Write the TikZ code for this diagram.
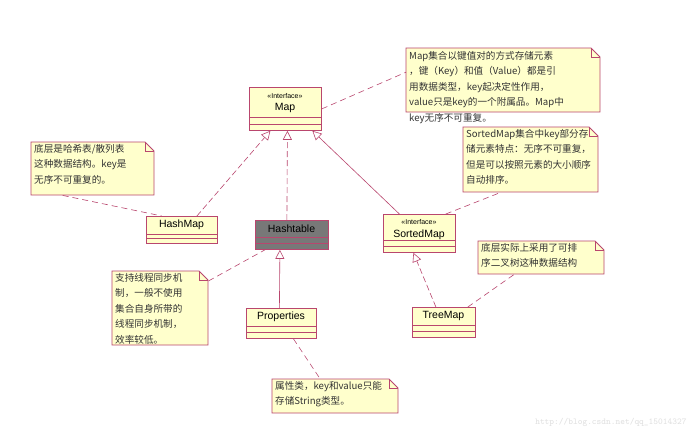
\documentclass[tikz,border=0pt]{standalone}
\usepackage{fontspec}
\setmainfont{Liberation Sans}
\newfontfamily\cjk{Noto Sans CJK SC}
\usetikzlibrary{arrows.meta,calc}
\definecolor{bd}{RGB}{185,70,110}
\definecolor{nf}{RGB}{255,255,204}
\definecolor{gr}{RGB}{120,120,120}
\tikzset{
 box/.style={draw=bd,fill=nf,anchor=north west,inner sep=0,line width=0.8pt},
 note/.style={anchor=north west,inner sep=0},
 ntext/.style={anchor=north west,inner sep=0,align=left,font=\cjk\fontsize{9.6}{15.5}\selectfont,text=black!80},
 gen/.style={draw=bd,line width=0.6pt,-{Triangle[open,length=9pt,width=9pt,fill=white]}},
 real/.style={gen,dash pattern=on 6pt off 3pt},
 link/.style={draw=bd,line width=0.6pt,dash pattern=on 6pt off 4pt},
 stereo/.style={font=\fontsize{7}{8}\selectfont},
 cname/.style={font=\fontsize{10.5}{12}\selectfont},
}
\newcommand{\notebox}[5]{% name, x1,y1,x2,y2
 \node[note,minimum width=#4-#2,minimum height=#5-#3] (#1) at (#2,#3) {};
 \draw[bd,fill=nf,line width=0.8pt] (#2,#3) -- (#4-9,#3) -- (#4,#3+9) -- (#4,#5) -- (#2,#5) -- cycle;
 \draw[bd,line width=0.6pt] (#4-9,#3) -- (#4-9,#3+9) -- (#4,#3+9);
}
\newcommand{\clsbox}[7]{% name,x1,y1,x2,y2,line1,line2
 \node[box,minimum width=#4-#2,minimum height=#5-#3] (#1) at (#2,#3) {};
 \draw[bd,line width=0.6pt] (#2,#6) -- (#4,#6) (#2,#7) -- (#4,#7);
}
\begin{document}
\begin{tikzpicture}[x=1pt,y=-1pt]
\useasboundingbox[fill=white] (0,0) rectangle (692,432);
% notes
\notebox{nmap}{406}{48}{600}{112}
\node[ntext] at (409,51) {Map集合以键值对的方式存储元素\\，键（Key）和值（Value）都是引\\用数据类型，key起决定性作用，\\value只是key的一个附属品。Map中\\key无序不可重复。};
\notebox{nhash}{31}{142}{154}{195}
\node[ntext] at (34,144) {底层是哈希表/散列表\\这种数据结构。key是\\无序不可重复的。};
\notebox{nsort}{463}{127}{598}{192}
\node[ntext] at (466,129) {SortedMap集合中key部分存\\储元素特点：无序不可重复，\\但是可以按照元素的大小顺序\\自动排序。};
\notebox{ntable}{112}{271}{208}{345}
\node[ntext] at (115,273) {支持线程同步机\\制，一般不使用\\集合自身所带的\\线程同步机制，\\效率较低。};
\notebox{nprop}{272}{379}{398}{413}
\node[ntext] at (275,381) {属性类，key和value只能\\存储String类型。};
\notebox{ntree}{478}{241}{604}{274}
\node[ntext] at (481,243) {底层实际上采用了可排\\序二叉树这种数据结构};
% classes
\clsbox{map}{249}{87}{321}{130}{117}{124}
\node[stereo] at (285,96) {<<Interface>>};
\node[cname] at (285,108) {Map};
\clsbox{hashmap}{146}{216}{217}{243}{234}{238}
\node[cname] at (181.5,225) {HashMap};
\node[box,fill=gr,minimum width=73,minimum height=29] (hashtable) at (255,220) {};
\draw[bd,line width=0.6pt] (255,237) -- (328,237) (255,243) -- (328,243);
\node[cname] at (291.5,229) {Hashtable};
\clsbox{sortedmap}{383}{214}{455}{252}{240}{246}
\node[stereo] at (419,222) {<<Interface>>};
\node[cname] at (419,235) {SortedMap};
\clsbox{props}{246}{308}{316}{338}{326}{332}
\node[cname] at (281,317) {Properties};
\clsbox{treemap}{412}{307}{475}{337}{325}{331}
\node[cname] at (443.5,316) {TreeMap};
% relations
\draw[real] ($(hashmap.north)+(15,0)$) -- ($(map.south)+(-15,0)$);
\draw[real] ($(hashtable.north)+(-5,0)$) -- ($(map.south)+(2,0)$);
\draw[gen] ($(sortedmap.north)+(-20,0)$) -- ($(map.south)+(27,0)$);
\draw[gen] ($(props.north)+(-2,0)$) -- ($(hashtable.south)+(-12,0)$);
\draw[real] ($(treemap.north)+(-8,0)$) -- ($(sortedmap.south)+(-6,0)$);
% note links
\draw[link] ($(map.east)+(0,0)$) -- ($(nmap.west)+(0,-8)$);
\draw[link] ($(nhash.south)+(-30,0)$) -- ($(hashmap.north)+(-20,0)$);
\draw[link] ($(sortedmap.north east)+(-10,0)$) -- ($(nsort.south)+(-30,0)$);
\draw[link] ($(ntable.north east)+(0,10)$) -- ($(hashtable.south west)+(10,0)$);
\draw[link] ($(props.south)+(12,0)$) -- ($(nprop.north)+(-15,0)$);
\draw[link] ($(treemap.north east)+(-8,0)$) -- ($(ntree.south)+(-27,0)$);
\node[anchor=south east,font=\ttfamily\fontsize{9}{10}\selectfont,text=black!12] (wm) at (690,430) {http://blog.csdn.net/qq\_15014327};
\end{tikzpicture}
\end{document}
